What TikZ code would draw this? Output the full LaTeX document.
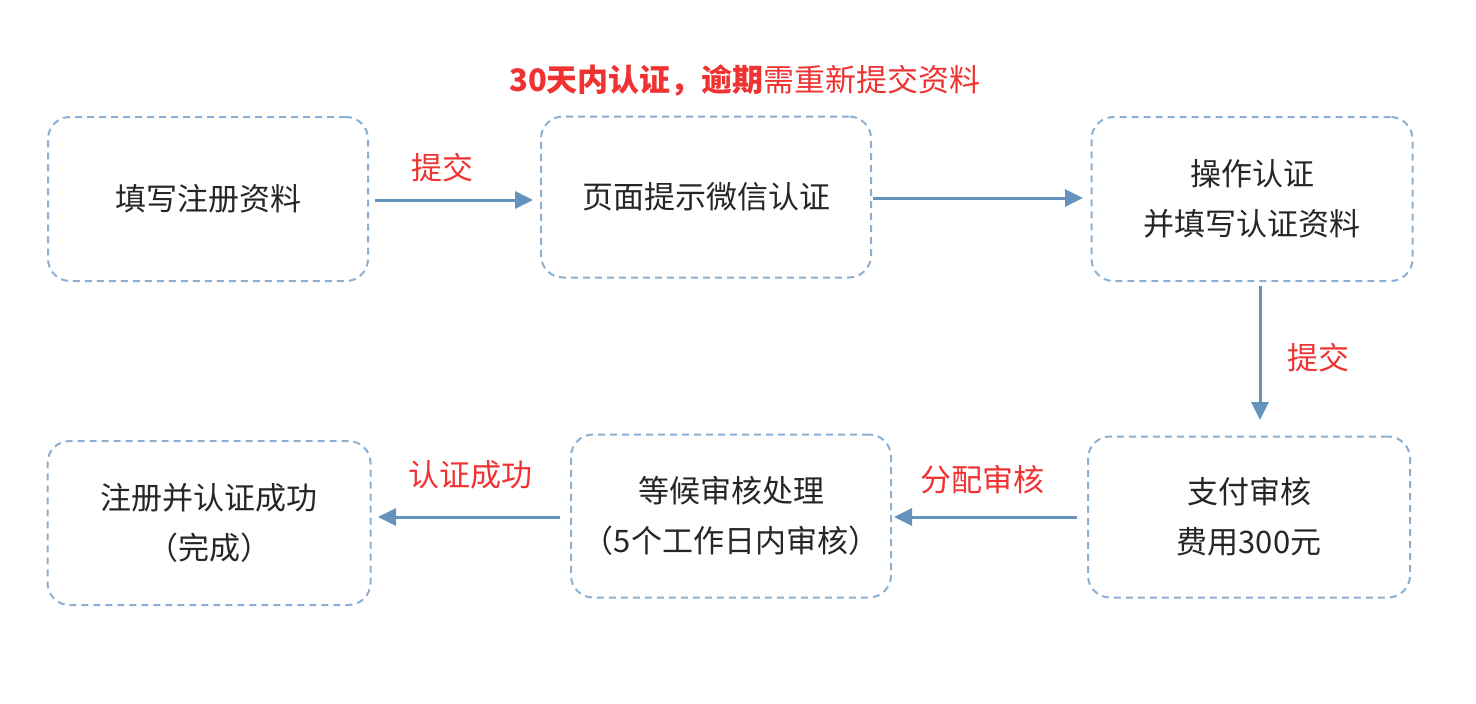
\documentclass[tikz,border=0pt]{standalone}
\usepackage{fontspec}
\setmainfont{Noto Sans CJK SC}
\usetikzlibrary{arrows.meta}
\definecolor{bordc}{RGB}{140,175,210}
\definecolor{arrc}{RGB}{100,148,190}
\definecolor{redc}{RGB}{240,50,50}
\tikzset{x=1pt,y=-1pt,
 box/.style={draw=bordc,dashed,dash pattern=on 7pt off 5pt,line width=2pt,rounded corners=22pt,
   minimum width=#1,align=center,font=\fontsize{31}{50}\selectfont,text=black!85},
 conn/.style={draw=arrc,line width=3pt,-{Triangle[length=18pt,width=17pt]}},
 lab/.style={text=redc,font=\fontsize{31}{34}\selectfont}}
\begin{document}
\begin{tikzpicture}
\useasboundingbox (0,0) rectangle (1476,704);
\node[box=320pt,minimum height=164pt] (b1) at (208,199) {填写注册资料};
\node[box=330pt,minimum height=161pt] (b2) at (706,197) {页面提示微信认证};
\node[box=321pt,minimum height=164pt] (b3) at (1252,199) {操作认证\\并填写认证资料};
\node[box=322pt,minimum height=161pt] (b4) at (1249,517) {支付审核\\费用300元};
\node[box=320pt,minimum height=163pt] (b5) at (731,516) {等候审核处理\\（5个工作日内审核）};
\node[box=323pt,minimum height=164pt] (b6) at (209,523) {注册并认证成功\\（完成）};
\draw[conn] (375,200) coordinate (a1) -- (533,200) coordinate (a2);
\node[lab] (l1) at (442,168) {提交};
\draw[conn] (873,198) coordinate (a3) -- (1083,198) coordinate (a4);
\draw[conn] (1260,286) coordinate (a5) -- (1260,420) coordinate (a6);
\node[lab] (l2) at (1318,358) {提交};
\draw[conn] (1077,517) coordinate (a7) -- (894,517) coordinate (a8);
\node[lab] (l3) at (982,480) {分配审核};
\draw[conn] (560,517) coordinate (a9) -- (378,517) coordinate (a10);
\node[lab] (l4) at (470,475) {认证成功};
\node[text=redc,font=\fontsize{31}{34}\selectfont] (top) at (745,80) {\textbf{30天内认证，逾期}需重新提交资料};
\end{tikzpicture}
\end{document}
